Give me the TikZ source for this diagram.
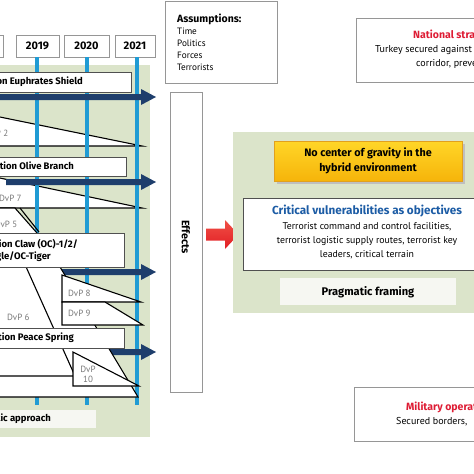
\documentclass[tikz,border=0pt]{standalone}
\usepackage{fontspec}
\setmainfont{PT Sans}
\newfontfamily\heavy{Fira Sans}
\definecolor{bggreen}{RGB}{219,228,202}
\definecolor{yearblue}{RGB}{32,155,212}
\definecolor{navy}{RGB}{30,62,108}
\definecolor{boxgray}{RGB}{150,150,150}
\definecolor{darkgray}{RGB}{80,80,80}
\definecolor{dvpgray}{RGB}{120,120,120}
\definecolor{redtitle}{RGB}{222,28,52}
\definecolor{bluetitle}{RGB}{28,92,165}
\definecolor{paleframe}{RGB}{246,247,242}
\definecolor{goldtop}{RGB}{255,214,40}
\definecolor{goldbot}{RGB}{246,180,10}
\definecolor{goldedge}{RGB}{225,160,30}
\definecolor{arrowred}{RGB}{226,30,36}
\definecolor{arrowredlight}{RGB}{240,80,70}
\tikzset{
  yearbox/.style={draw=boxgray,line width=0.8pt,fill=white,minimum height=22pt,inner sep=0pt,font=\heavy\bfseries\fontsize{11}{12}\selectfont},
  yearline/.style={draw=yearblue,line width=4pt},
  opbox/.style={draw=darkgray,line width=0.8pt,fill=white},
  optext/.style={inner sep=0pt,anchor=east,font=\heavy\bfseries\fontsize{9.5}{12}\selectfont},
  wedge/.style={draw=black,line width=1.1pt,fill=white,line join=miter},
  dvplabel/.style={inner sep=0pt,text=dvpgray,font=\fontsize{9}{10}\selectfont},
  navyarrow/.style={fill=navy},
  graybox/.style={draw=boxgray,line width=0.8pt,fill=white},
  plain/.style={inner sep=0pt,anchor=west,font=\fontsize{9.2}{11}\selectfont},
  bodytext/.style={inner sep=0pt,font=\fontsize{9.8}{14.2}\selectfont},
}
\newcommand\opArrow[2]{\fill[navyarrow] (#1,#2-3) -- (141,#2-3) -- (141,#2-8) -- (156,#2) -- (141,#2+8) -- (141,#2+3) -- (#1,#2+3) -- cycle;}
\begin{document}
\begin{tikzpicture}[x=1pt,y=-1pt]
\useasboundingbox (0,0) rectangle (474,474);
\clip (0,0) rectangle (474,474);
\fill[white] (0,0) rectangle (474,474);

% left green background
\fill[bggreen] (-5,65) rectangle (150,437);

% upper wedges (under the year lines)
\filldraw[wedge] (-5,116) -- (142,146) -- (-5,146) -- cycle;
\node[dvplabel,anchor=east] (dvp2) at (8.5,133) {DvP 2};
\filldraw[wedge] (-5,177) -- (142,208) -- (-5,208) -- cycle;
\node[dvplabel,anchor=west] (dvp7) at (-1,198) {DvP 7};

% year boxes and lines
\node[yearbox,minimum width=33pt] (y2018) at (-13.5,46) {2018};
\node[yearbox,minimum width=43pt] (y2019) at (37.5,46) {2019};
\node[yearbox,minimum width=45pt] (y2020) at (86.5,46) {2020};
\node[yearbox,minimum width=40pt] (y2021) at (135,46) {2021};
\coordinate (e2019) at (37,405);
\coordinate (e2020) at (87,405);
\coordinate (e2021) at (137,405);
\draw[yearline] (37,57) -- (e2019);
\draw[yearline] (87,57) -- (e2020);
\draw[yearline] (137,57) -- (e2021);

% navy arrows
\opArrow{-5}{97}
\opArrow{6}{182}
\opArrow{-5}{272}
\opArrow{-5}{352}

% lower wedges (over the lines)
\filldraw[wedge] (-5,208) -- (15,208) -- (37,233) -- (60,267) -- (138,397) -- (-5,397) -- cycle;
\draw[black,line width=1.1pt] (20,208) -- (39,232);
\node[dvplabel,anchor=east] (dvp5) at (17.5,224) {DvP 5};
\filldraw[wedge] (-5,240) -- (14,240) -- (75,376) -- (-5,376) -- cycle;
\node[dvplabel,anchor=west] (dvp6) at (7,317) {DvP 6};
\filldraw[wedge] (62,275) -- (141,302) -- (62,302) -- cycle;
\node[dvplabel,anchor=west] (dvp8) at (68,293) {DvP 8};
\filldraw[wedge] (62,302) -- (105,302) -- (143,325) -- (62,325) -- cycle;
\node[dvplabel,anchor=west] (dvp9) at (68,313) {DvP 9};
\filldraw[wedge] (73,352) -- (139,386) -- (73,386) -- cycle;
\node[dvplabel,align=center,font=\fontsize{9}{10}\selectfont] (dvp10) at (88,374) {DvP\\10};

% operation boxes
\draw[opbox] (-5,72) rectangle (131,92);
\node[optext] (opes) at (83,82) {Operation Euphrates Shield};
\draw[opbox] (-5,157) rectangle (126,176);
\node[optext] (opob) at (74,166.5) {Operation Olive Branch};
\draw[opbox] (-5,233) rectangle (124,267);
\node[optext] (opc1) at (78,244) {Operation Claw (OC)-1/2/};
\node[optext] (opc2) at (51,257) {Eagle/OC-Tiger};
\draw[opbox] (-5,328) rectangle (124,348);
\node[optext] (opps) at (74,338) {Operation Peace Spring};

% pragmatic approach
\fill[paleframe] (-5,410) rectangle (96,428);
\node[optext] (papp) at (51,419) {Pragmatic approach};

% assumptions
\draw[graybox] (165,1.5) rectangle (277,83);
\node[plain,font=\heavy\bfseries\fontsize{10.5}{11}\selectfont] (asm) at (177,19) {Assumptions:};
\node[plain] (asm1) at (177,31) {Time};
\node[plain] (asm2) at (177,43) {Politics};
\node[plain] (asm3) at (177,55) {Forces};
\node[plain] (asm4) at (177,67) {Terrorists};

% effects
\draw[graybox] (170,92) rectangle (202,392);
\node[inner sep=0pt,rotate=-90,font=\heavy\bfseries\fontsize{10.8}{11}\selectfont] (eff) at (186,237) {Effects};

% red arrow
\shade[top color=arrowredlight,bottom color=arrowred] (206,228.5) -- (225,228.5) -- (225,220) -- (238.5,234.5) -- (225,249) -- (225,240.5) -- (206,240.5) -- cycle;

% right green panel
\fill[bggreen] (233,132) rectangle (480,313);
\fill[black!25] (276.5,143.5) rectangle (464.5,183.5);
\shade[top color=goldtop,bottom color=goldbot,draw=goldedge,line width=0.6pt] (274,141) rectangle (462,181);
\node[inner sep=0pt,align=center,font=\heavy\bfseries\fontsize{10.8}{15}\selectfont] (cog) at (368,160.5) {No center of gravity in the\\hybrid environment};
\draw[draw=darkgray,line width=0.9pt,fill=white] (243,198) rectangle (480,270);
\node[inner sep=0pt,text=bluetitle,font=\heavy\bfseries\fontsize{11.7}{12}\selectfont] (cv) at (367,211) {Critical vulnerabilities as objectives};
\node[bodytext,align=center] (cvt) at (367,240.5) {Terrorist command and control facilities,\\terrorist logistic supply routes, terrorist key\\leaders, critical terrain};
\fill[paleframe] (280,278) rectangle (456,305);
\node[inner sep=0pt,font=\heavy\bfseries\fontsize{11.1}{12}\selectfont] (pf) at (368,292) {Pragmatic framing};

% national strategic box
\draw[graybox] (356,18) rectangle (480,82);
\node[plain,text=redtitle,font=\heavy\bfseries\fontsize{10.5}{12}\selectfont] (nat) at (413,35) {National strategic};
\node[plain,font=\fontsize{10}{12}\selectfont] (nat1) at (375,50) {Turkey secured against};
\node[plain,font=\fontsize{10}{12}\selectfont] (nat2) at (416,64) {corridor, prevented};

% military operational box
\draw[graybox] (354,387) rectangle (480,441);
\node[plain,text=redtitle,font=\heavy\bfseries\fontsize{10.5}{12}\selectfont] (mil) at (406,407) {Military operational};
\node[plain,font=\fontsize{10}{12}\selectfont] (mil1) at (396,422) {Secured borders,};
\end{tikzpicture}
\end{document}
